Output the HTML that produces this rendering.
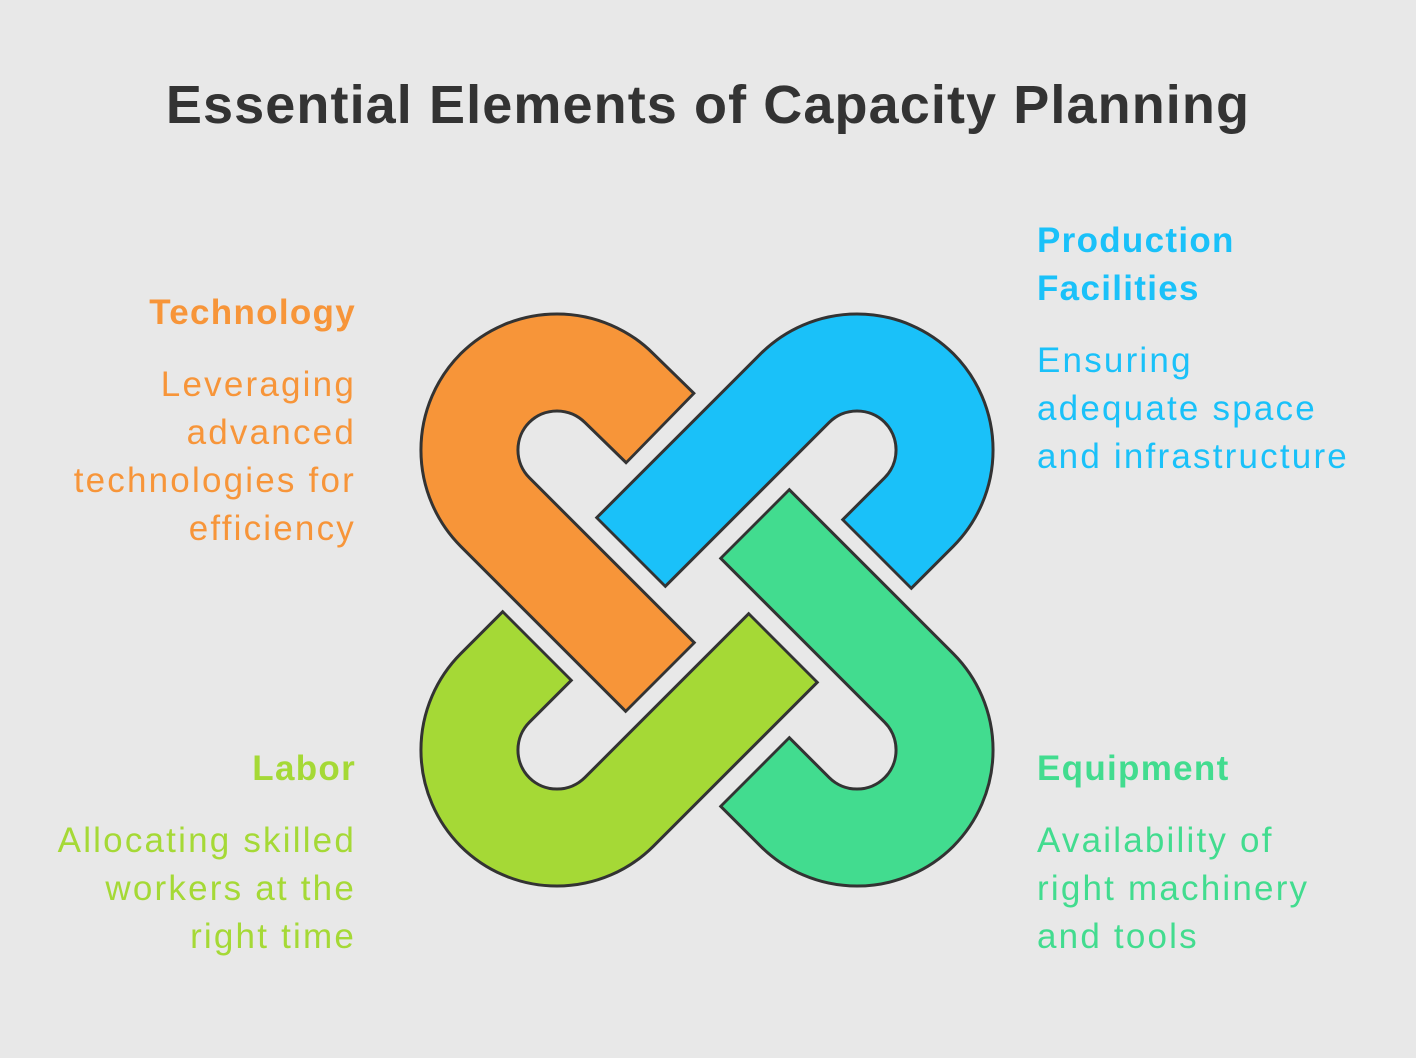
<!DOCTYPE html>
<html><head><meta charset="utf-8"><style>
body{margin:0;width:1416px;height:1058px;background:#e8e8e8;position:relative;font-family:"Liberation Sans",sans-serif;overflow:hidden}
.t{position:absolute;white-space:nowrap}
h1{position:absolute;left:0;width:1416px;top:74px;margin:0;text-align:center;font-size:54px;font-weight:bold;color:#333;letter-spacing:1.1px}
.h{font-weight:bold;font-size:35px;line-height:48px;letter-spacing:1.3px}
.b{font-size:35px;line-height:48px;letter-spacing:2.2px}
.r{text-align:right;right:1060px}
.l{left:1037px}
</style></head><body>
<h1>Essential Elements of Capacity Planning</h1>
<svg width="1416" height="1058" style="position:absolute;left:0;top:0" fill="none">
<path stroke="#333" stroke-width="100" d="M661 429 L619 388 A88 88 0 0 0 495 388 A88 88 0 0 0 495 512 L661 678"/>
<path stroke="#F79539" stroke-width="94" d="M659 427 L619 388 A88 88 0 0 0 495 388 A88 88 0 0 0 495 512 L659 676"/>
<path stroke="#333" stroke-width="100" d="M876 555 L919 512 A88 88 0 0 0 919 388 A88 88 0 0 0 795 388 L630 553"/>
<path stroke="#1AC1F9" stroke-width="94" d="M878 553 L919 512 A88 88 0 0 0 919 388 A88 88 0 0 0 795 388 L632 551"/>
<path stroke="#333" stroke-width="100" d="M754 771 L795 812 A88 88 0 0 0 919 812 A88 88 0 0 0 919 688 L754 523"/>
<path stroke="#42DC8F" stroke-width="94" d="M756 773 L795 812 A88 88 0 0 0 919 812 A88 88 0 0 0 919 688 L756 525"/>
<path stroke="#333" stroke-width="100" d="M538 645 L495 688 A88 88 0 0 0 495 812 A88 88 0 0 0 619 812 L784 647"/>
<path stroke="#A5D936" stroke-width="94" d="M536 647 L495 688 A88 88 0 0 0 495 812 A88 88 0 0 0 619 812 L782 649"/>
</svg>
<div class="t r h" style="top:289px;color:#F79539">Technology</div>
<div class="t r b" style="top:361px;color:#F79539">Leveraging<br>advanced<br>technologies for<br>efficiency</div>
<div class="t l h" style="top:217px;color:#1AC1F9">Production<br>Facilities</div>
<div class="t l b" style="top:337px;color:#1AC1F9">Ensuring<br>adequate space<br>and infrastructure</div>
<div class="t r h" style="top:745px;color:#A5D936">Labor</div>
<div class="t r b" style="top:817px;color:#A5D936">Allocating skilled<br>workers at the<br>right time</div>
<div class="t l h" style="top:745px;color:#42DC8F">Equipment</div>
<div class="t l b" style="top:817px;color:#42DC8F">Availability of<br>right machinery<br>and tools</div>
</body></html>
